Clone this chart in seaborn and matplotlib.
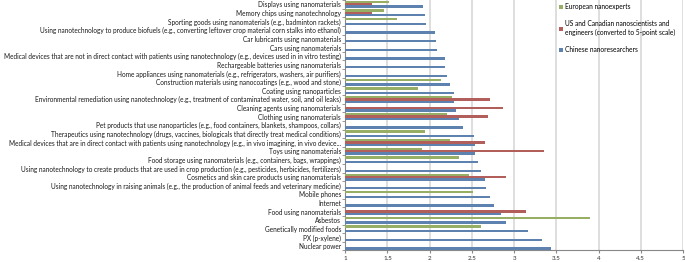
import numpy as np
import pandas as pd
import seaborn as sns
import matplotlib.pyplot as plt

# categories, top to bottom as in the chart
categories = [
    "Displays using nanomaterials",
    "Memory chips using nanotechnology",
    "Sporting goods using nanomaterials (e.g., badminton rackets)",
    "Using nanotechnology to produce biofuels (e.g., converting leftover crop material corn stalks into ethanol)",
    "Car lubricants using nanomaterials",
    "Cars using nanomaterials",
    "Medical devices that are not in direct contact with patients using nanotechnology (e.g., devices used in in vitro testing)",
    "Rechargeable batteries using nanomaterials",
    "Home appliances using nanomaterials (e.g., refrigerators, washers, air purifiers)",
    "Construction materials using nanocoatings (e.g., wood and stone)",
    "Coating using nanoparticles",
    "Environmental remediation using nanotechnology (e.g., treatment of contaminated water, soil, and oil leaks)",
    "Cleaning agents using nanomaterials",
    "Clothing using nanomaterials",
    "Pet products that use nanoparticles (e.g., food containers, blankets, shampoos, collars)",
    "Therapeutics using nanotechnology (drugs, vaccines, biologicals that directly treat medical conditions)",
    "Medical devices that are in direct contact with patients using nanotechnology (e.g., in vivo imagining, in vivo device...",
    "Toys using nanomaterials",
    "Food storage using nanomaterials (e.g., containers, bags, wrappings)",
    "Using nanotechnology to create products that are used in crop production (e.g., pesticides, herbicides, fertilizers)",
    "Cosmetics and skin care products using nanomaterials",
    "Using nanotechnology in raising animals (e.g., the production of animal feeds and veterinary medicine)",
    "Mobile phones",
    "Internet",
    "Food using nanomaterials",
    "Asbestos",
    "Genetically modified foods",
    "PX (p-xylene)",
    "Nuclear power",
]

nan = np.nan
european = [1.52, 1.46, 1.61, nan, nan, nan, nan, nan, nan, 2.13, 1.86, 2.26, nan, 2.20, nan,
            1.95, 2.24, 1.91, 2.35, nan, 2.47, nan, 2.51, nan, nan, 3.90, 2.61, nan, nan]
us_canada = [1.32, 1.32, nan, nan, nan, nan, nan, nan, nan, nan, nan, 2.71, 2.87, 2.69, nan,
             nan, 2.65, 3.36, nan, nan, 2.91, nan, nan, nan, 3.14, nan, nan, nan, nan]
chinese = [1.92, 1.95, 1.96, 2.06, 2.07, 2.09, 2.18, 2.18, 2.21, 2.24, 2.29, 2.29, 2.31, 2.35, 2.39,
           2.52, 2.54, 2.54, 2.57, 2.61, 2.66, 2.67, 2.71, 2.76, 2.84, 2.90, 3.16, 3.33, 3.44]

series = ["European nanoexperts",
          "US and Canadian nanoscientists and\nengineers (converted to 5-point scale)",
          "Chinese nanoresearchers"]
colours = ["#9BBB59", "#C0504D", "#4F81BD"]

df = pd.DataFrame({
    "Item": categories * 3,
    "Score": european + us_canada + chinese,
    "Group": np.repeat(series, len(categories)),
}).dropna()

plt.rcParams['font.family'] = ['Lato', 'DejaVu Sans']

fig = plt.figure(figsize=(6.85, 2.62), dpi=100)
ax = fig.add_axes([0.504, 0.044, 0.493, 0.956])

sns.barplot(data=df, y="Item", x="Score", hue="Group", order=categories, hue_order=series,
            palette=dict(zip(series, colours)), width=0.82, gap=0, dodge=True,
            errorbar=None, ax=ax, zorder=3)

ax.set_xlim(1, 5)
ax.set_xticks(np.arange(1, 5.01, 0.5))
ax.set_xticklabels(["1", "1.5", "2", "2.5", "3", "3.5", "4", "4.5", "5"])
ax.set_xlabel("")
ax.set_ylabel("")
ax.set_ylim(len(categories) - 0.5, -0.5)
ax.grid(axis="x", color="#d4d4d4", linewidth=1.1, zorder=0)
ax.set_axisbelow(True)
for s in ["top", "right"]:
    ax.spines[s].set_visible(False)
for s in ["left", "bottom"]:
    ax.spines[s].set_color("#888888")
    ax.spines[s].set_linewidth(0.8)
ax.tick_params(axis="y", labelsize=4.7, length=0, pad=3, labelcolor="#1a1a1a")
ax.tick_params(axis="x", labelsize=4.5, length=2, color="#888888", labelcolor="#333333", pad=2)
# small tick marks between categories on the left axis
ax.set_yticks(np.arange(-0.5, len(categories), 1), minor=True)
ax.tick_params(axis="y", which="minor", length=2, color="#888888")

leg = ax.legend(loc="upper left", bbox_to_anchor=(0.625, 1.0), frameon=False, fontsize=4.8,
                handlelength=0.6, handleheight=0.6, handletextpad=0.3, labelspacing=1.55,
                borderaxespad=0.05)

fig.savefig("out.png", dpi=100)
